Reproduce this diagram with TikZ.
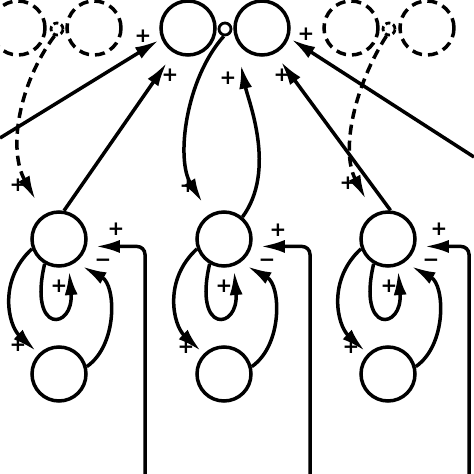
\documentclass[tikz,border=0pt]{standalone}
\usepackage{fontspec}
\newfontfamily\signfont{DejaVu Sans}
\usetikzlibrary{arrows.meta}
\tikzset{
	cell/.style={circle,draw,line width=3.5pt,minimum size=54pt,inner sep=0pt},
	ghost/.style={cell,dash pattern=on 10pt off 6pt},
	knot/.style={circle,draw,line width=2.8pt,minimum size=12pt,inner sep=0pt},
	ghostknot/.style={knot,dash pattern=on 5pt off 3pt},
	wire/.style={line width=3.5pt,-{Latex[length=24pt,width=13pt]}},
	ghostwire/.style={wire,dash pattern=on 10pt off 6pt},
	sgn/.style={font=\signfont\bfseries\fontsize{20}{20}\selectfont,inner sep=0pt}
}
\begin{document}
\begin{tikzpicture}[x=1pt,y=-1pt]
	\useasboundingbox (0,0) rectangle (474,474);
	
	%upper cells
	\node[cell] (up1) at (188,28) {};
	\node[cell] (up2) at (262,28) {};
	\node[knot] (upk) at (225,29) {};
	
	%ghost cells
	\node[ghost] (gl1) at (18,28) {};
	\node[ghost] (gl2) at (94,28) {};
	\node[ghostknot] (glk) at (57,29) {};
	\node[ghost] (gr1) at (351,28) {};
	\node[ghost] (gr2) at (427,28) {};
	\node[ghostknot] (grk) at (389,29) {};
	
	%lower cells
	\node[cell] (a1) at (59,239) {};		%left
	\node[cell] (b1) at (59,374) {};
	\node[cell] (a2) at (224,239) {};		%middle
	\node[cell] (b2) at (224,374) {};
	\node[cell] (a3) at (388,239) {};		%right
	\node[cell] (b3) at (388,374) {};
	
	%free ends
	\coordinate (feedL) at (0,138);
	\coordinate (feedR) at (474,157);
	\coordinate (in1) at (145,474);
	\coordinate (in2) at (310,474);
	\coordinate (in3) at (469,474);
	
	%upper arrows
	\draw[wire,shorten >=3pt] (feedL) -- (up1.202);
	\draw[wire,shorten >=12pt] (a1.80) -- (up1.240);
	\draw[wire,shorten >=14pt] (upk.260) .. controls (185,80) and (176,160) .. (a2.120);
	\draw[wire,shorten >=25pt] (a2.50) .. controls (277,170) and (248,100) .. (up2.205);
	\draw[wire,shorten >=3pt] (feedR) -- (up2.340);
	\draw[wire,shorten >=10pt] (a3.85) -- (up2.297);
	
	%dashed arrows
	\draw[ghostwire,shorten >=17pt] (glk.250) .. controls (18,85) and (8,150) .. (a1.122);
	\draw[ghostwire,shorten >=17pt] (grk.250) .. controls (355,85) and (340,150) .. (a3.120);
	
	%left column
	\draw[wire,shorten >=5pt] (a1.240) .. controls (28,335) and (74,330) .. (a1.290);	%self
	\draw[wire,shorten >=4pt] (a1.200) .. controls (-2,280) and (8,325) .. (b1.135);	%down
	\draw[wire,shorten >=8pt] (b1.15) .. controls (118,345) and (116,285) .. (a1.305);	%up
	\draw[wire,rounded corners=8pt,shorten >=9pt] (in1) |- (a1.345);					%input
	
	%middle column
	\draw[wire,shorten >=5pt] (a2.240) .. controls (193,335) and (239,330) .. (a2.290);
	\draw[wire,shorten >=4pt] (a2.200) .. controls (163,280) and (173,325) .. (b2.135);
	\draw[wire,shorten >=8pt] (b2.15) .. controls (283,345) and (281,285) .. (a2.305);
	\draw[wire,rounded corners=8pt,shorten >=9pt] (in2) |- (a2.345);
	
	%right column
	\draw[wire,shorten >=5pt] (a3.240) .. controls (357,335) and (403,330) .. (a3.290);
	\draw[wire,shorten >=4pt] (a3.200) .. controls (327,280) and (337,325) .. (b3.135);
	\draw[wire,shorten >=8pt] (b3.15) .. controls (447,345) and (445,285) .. (a3.305);
	\draw[wire,rounded corners=8pt,shorten >=9pt] (in3) |- (a3.345);
	
	%upper signs
	\node[sgn] (pfL) at (143,36) {+};
	\node[sgn] (pa1) at (170,75) {+};
	\node[sgn] (pk) at (188,186) {+};
	\node[sgn] (pa2) at (228,78) {+};
	\node[sgn] (pfR) at (306,34) {+};
	\node[sgn] (pa3) at (282,75) {+};
	\node[sgn] (pgl) at (18,185) {+};
	\node[sgn] (pgr) at (348,183) {+};
	
	%column signs
	\node[sgn] (pi1) at (116,229) {+};
	\node[sgn] (mi1) at (103,263) {−};
	\node[sgn] (ps1) at (59,286) {+};
	\node[sgn] (pd1) at (18,345) {+};
	%
	\node[sgn] (pi2) at (278,230) {+};
	\node[sgn] (mi2) at (267,263) {−};
	\node[sgn] (ps2) at (224,286) {+};
	\node[sgn] (pd2) at (186,347) {+};
	%
	\node[sgn] (pi3) at (439,229) {+};
	\node[sgn] (mi3) at (431,263) {−};
	\node[sgn] (ps3) at (389,286) {+};
	\node[sgn] (pd3) at (351,347) {+};
\end{tikzpicture}
\end{document}
